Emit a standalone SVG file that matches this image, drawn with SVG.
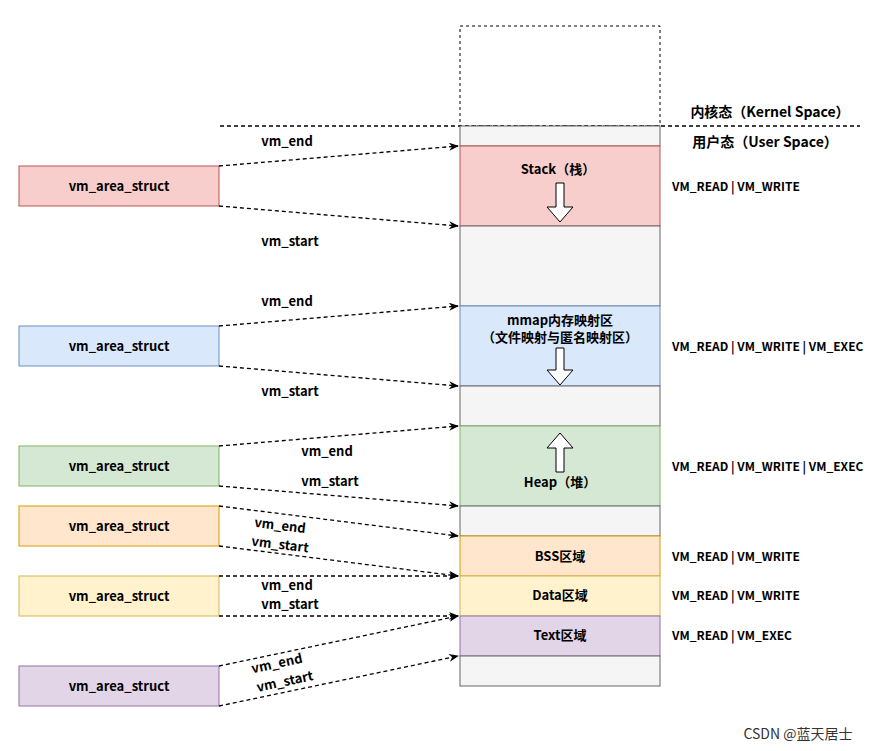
<svg xmlns="http://www.w3.org/2000/svg" width="882" height="751" viewBox="0 0 882 751">
<style>
text{font-family:"Noto Sans CJK SC","Noto Sans",sans-serif;font-weight:bold;font-size:13px;fill:#000}
.c{text-anchor:middle}
.f{font-size:12px}
.h{font-size:14px}
.g{fill:#f5f5f5;stroke:#666}
.con line{stroke:#000;stroke-width:1.3;stroke-dasharray:4 3;marker-end:url(#a)}
.ba{fill:#fff;stroke:#000;stroke-width:1}
</style>
<defs><marker id="a" markerWidth="10" markerHeight="8" refX="9" refY="4" orient="auto" markerUnits="userSpaceOnUse"><path d="M0,0 L10,4 L0,8 L3,4 Z" fill="#000"/></marker></defs>
<rect width="882" height="751" fill="#fff"/>
<rect x="460" y="26" width="200" height="100" fill="none" stroke="#000" stroke-dasharray="3 3"/>
<line x1="220" y1="126" x2="860" y2="126" stroke="#000" stroke-width="1.3" stroke-dasharray="4 3"/>
<text x="770" y="117" class="c h">内核态（Kernel Space）</text>
<text x="765" y="147" class="c h">用户态（User Space）</text>
<g id="mem">
<rect x="460" y="126" width="200" height="20" class="g"/>
<rect x="460" y="146" width="200" height="80" fill="#f8cecc" stroke="#b85450"/>
<rect x="460" y="226" width="200" height="80" class="g"/>
<rect x="460" y="306" width="200" height="80" fill="#dae8fc" stroke="#6c8ebf"/>
<rect x="460" y="386" width="200" height="40" class="g"/>
<rect x="460" y="426" width="200" height="80" fill="#d5e8d4" stroke="#82b366"/>
<rect x="460" y="506" width="200" height="30" class="g"/>
<rect x="460" y="536" width="200" height="40" fill="#ffe6cc" stroke="#d79b00"/>
<rect x="460" y="576" width="200" height="40" fill="#fff2cc" stroke="#d6b656"/>
<rect x="460" y="616" width="200" height="40" fill="#e1d5e7" stroke="#9673a6"/>
<rect x="460" y="656" width="200" height="30" class="g"/>
<text x="558" y="174" class="c">Stack（栈）</text>
<text x="560" y="325" class="c">mmap内存映射区</text>
<text x="560" y="342" class="c">（文件映射与匿名映射区）</text>
<text x="560" y="487" class="c">Heap（堆）</text>
<text x="560" y="561" class="c">BSS区域</text>
<text x="560" y="600" class="c">Data区域</text>
<text x="560" y="640" class="c">Text区域</text>
<path class="ba" d="M556,183 H564 V207 H573 L560,222 L547,207 H556 Z"/>
<path class="ba" d="M556,348 H564 V370 H573 L560,385 L547,370 H556 Z"/>
<path class="ba" d="M556,472 H564 V448 H573 L560,433 L547,448 H556 Z"/>
</g>
<g id="flags">
<text x="672" y="191" class="f">VM_READ | VM_WRITE</text>
<text x="672" y="351" class="f">VM_READ | VM_WRITE | VM_EXEC</text>
<text x="672" y="471" class="f">VM_READ | VM_WRITE | VM_EXEC</text>
<text x="672" y="561" class="f">VM_READ | VM_WRITE</text>
<text x="672" y="600" class="f">VM_READ | VM_WRITE</text>
<text x="672" y="640" class="f">VM_READ | VM_EXEC</text>
</g>
<g id="vma1"><rect x="19" y="166" width="200" height="40" fill="#f8cecc" stroke="#b85450"/><text x="119" y="191" class="c">vm_area_struct</text></g>
<g id="vma2"><rect x="19" y="326" width="200" height="40" fill="#dae8fc" stroke="#6c8ebf"/><text x="119" y="351" class="c">vm_area_struct</text></g>
<g id="vma3"><rect x="19" y="446" width="200" height="40" fill="#d5e8d4" stroke="#82b366"/><text x="119" y="471" class="c">vm_area_struct</text></g>
<g id="vma4"><rect x="19" y="506" width="200" height="40" fill="#ffe6cc" stroke="#d79b00"/><text x="119" y="531" class="c">vm_area_struct</text></g>
<g id="vma5"><rect x="19" y="576" width="200" height="40" fill="#fff2cc" stroke="#d6b656"/><text x="119" y="601" class="c">vm_area_struct</text></g>
<g id="vma6"><rect x="19" y="666" width="200" height="40" fill="#e1d5e7" stroke="#9673a6"/><text x="119" y="691" class="c">vm_area_struct</text></g>
<g class="con" id="connectors">
<line x1="219" y1="166" x2="458" y2="146"/>
<line x1="219" y1="206" x2="458" y2="226"/>
<line x1="219" y1="326" x2="458" y2="306"/>
<line x1="219" y1="366" x2="458" y2="386"/>
<line x1="219" y1="446" x2="458" y2="426"/>
<line x1="219" y1="486" x2="458" y2="506"/>
<line x1="219" y1="506" x2="458" y2="536"/>
<line x1="219" y1="546" x2="458" y2="576"/>
<line x1="219" y1="576" x2="458" y2="576"/>
<line x1="219" y1="616" x2="458" y2="616"/>
<line x1="219" y1="666" x2="458" y2="616"/>
<line x1="219" y1="706" x2="458" y2="656"/>
<text x="287" y="146" class="c">vm_end</text>
<text x="290" y="246" class="c">vm_start</text>
<text x="287" y="306" class="c">vm_end</text>
<text x="290" y="396" class="c">vm_start</text>
<text x="327" y="456" class="c">vm_end</text>
<text x="330" y="486" class="c">vm_start</text>
<text x="280" y="530" class="c" transform="rotate(7 280 526)">vm_end</text>
<text x="280" y="549" class="c" transform="rotate(7 280 545)">vm_start</text>
<text x="287" y="590" class="c">vm_end</text>
<text x="290" y="609" class="c">vm_start</text>
<text x="277" y="668" class="c" transform="rotate(-12 277 664)">vm_end</text>
<text x="285" y="686" class="c" transform="rotate(-12 285 682)">vm_start</text>
</g>
<text x="798" y="739" style="font-weight:normal;font-size:14px;fill:#333" class="c">CSDN @蓝天居士</text>
</svg>
